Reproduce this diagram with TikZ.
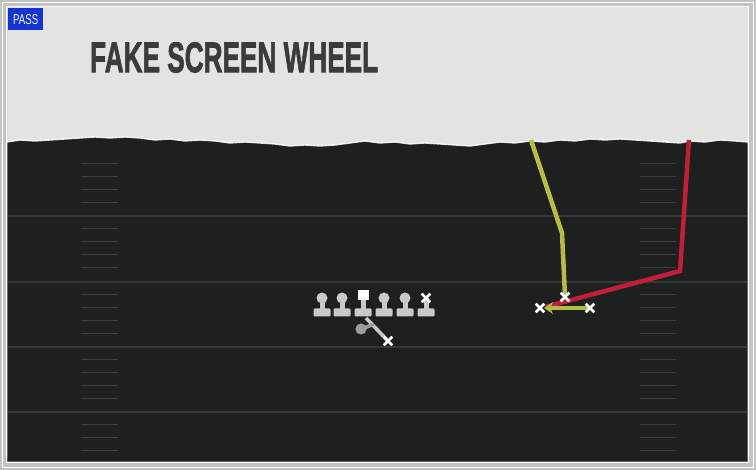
\documentclass[tikz,border=0pt]{standalone}
\usepackage{fontspec}
\setmainfont{Liberation Sans}
\newfontfamily\titlefont{Liberation Sans Bold}[FakeBold=2]
\usetikzlibrary{arrows.meta}
\definecolor{framegray}{HTML}{C3C3C3}
\definecolor{paper}{HTML}{E3E4E2}
\definecolor{field}{HTML}{1D201E}
\definecolor{fieldline}{HTML}{363937}
\definecolor{hashcol}{HTML}{3C3F3D}
\definecolor{pawncol}{HTML}{C9CAC8}
\definecolor{qbcol}{HTML}{9C9D9B}
\definecolor{routey}{HTML}{B6BC48}
\definecolor{router}{HTML}{C01F3B}
\definecolor{titlecol}{HTML}{3A3B3A}
\definecolor{passblue}{HTML}{1234D2}
\tikzset{
  yardline/.style={draw=fieldline, line width=1.2pt},
  hashline/.style={draw=hashcol, line width=1pt},
  routeline/.style={line width=4.5pt, line join=miter},
  xmark/.style={draw=white, line width=2.5pt},
  pawn/.pic={
    \fill[pawncol] (-2.5,0) rectangle (2.5,11);
    \fill[pawncol, rounded corners=1.2pt] (-8.5,10.5) rectangle (8.5,18.5);
  },
  pawnhead/.pic={\fill[pawncol] (0,0) circle (5.5);},
  xpic/.pic={\draw[xmark] (-4.3,-4.3) -- (4.3,4.3) (-4.3,4.3) -- (4.3,-4.3);}
}
\begin{document}
\begin{tikzpicture}[x=1pt,y=-1pt]
\useasboundingbox (0,0) rectangle (756,470);
% frame
\fill[framegray] (0,0) rectangle (756,470);
\draw[white, line width=1pt] (2.5,2.5) rectangle (753.5,467.5);
\fill[field] (7,7) rectangle (748,462);
\draw[white, line width=0.8pt] (6.5,6.5) rectangle (748.5,462.5);
\draw[black!60, line width=0.6pt] (7.3,7.3) rectangle (747.7,461.7);
% yard lines
\foreach \yy in {216,282,347,412}
  \draw[yardline] (8,\yy) -- (747,\yy);
% hash marks
\foreach \yy in {164,177,190,203,229,242,255,268,295,308,321,334,360,373,386,399,425,438,451}{
  \draw[hashline] (81,\yy) -- (118,\yy);
  \draw[hashline] (640,\yy) -- (676,\yy);
}
% paper with torn edge
\fill[paper] (7,7) -- (748,7) -- (748,142)
  -- (735,141) -- (720,140) -- (705,142) -- (690,141) -- (680,143) -- (665,142)
  -- (650,141) -- (635,140) -- (620,139) -- (605,140) -- (590,139) -- (575,141)
  -- (560,140) -- (545,142) -- (530,141) -- (515,143) -- (500,142) -- (485,144)
  -- (470,146) -- (455,145) -- (440,144) -- (425,143) -- (410,144) -- (395,142)
  -- (380,143) -- (365,141) -- (350,143) -- (335,145) -- (320,146) -- (305,145)
  -- (290,146) -- (275,144) -- (260,143) -- (245,142) -- (230,143) -- (215,141)
  -- (200,140) -- (185,141) -- (170,139) -- (155,140) -- (140,138) -- (125,137)
  -- (110,138) -- (95,137) -- (80,138) -- (65,139) -- (50,140) -- (35,141)
  -- (20,140) -- (7,142) -- cycle;
\draw[white, line width=1.4pt, opacity=0.85]
  (748,142)
  -- (735,141) -- (720,140) -- (705,142) -- (690,141) -- (680,143) -- (665,142)
  -- (650,141) -- (635,140) -- (620,139) -- (605,140) -- (590,139) -- (575,141)
  -- (560,140) -- (545,142) -- (530,141) -- (515,143) -- (500,142) -- (485,144)
  -- (470,146) -- (455,145) -- (440,144) -- (425,143) -- (410,144) -- (395,142)
  -- (380,143) -- (365,141) -- (350,143) -- (335,145) -- (320,146) -- (305,145)
  -- (290,146) -- (275,144) -- (260,143) -- (245,142) -- (230,143) -- (215,141)
  -- (200,140) -- (185,141) -- (170,139) -- (155,140) -- (140,138) -- (125,137)
  -- (110,138) -- (95,137) -- (80,138) -- (65,139) -- (50,140) -- (35,141)
  -- (20,140) -- (7,142);
% PASS tag
\node[fill=passblue, inner sep=0pt, minimum width=35pt, minimum height=22pt, anchor=north west]
  (pass) at (8,8) {\color{white}\resizebox{25pt}{10pt}{PASS}};
% title
\node[anchor=north west, inner sep=0pt, text=titlecol] (title) at (90,42)
  {\resizebox{288pt}{30pt}{\titlefont FAKE SCREEN WHEEL}};
% route coordinates
\coordinate (rs) at (545,307);
\coordinate (rbend) at (680,271);
\coordinate (rend) at (689,140);
\coordinate (ys) at (565,296);
\coordinate (ybend) at (562,233);
\coordinate (yend) at (531,140);
\coordinate (sx) at (590,308);
\coordinate (stip) at (544,308);
% routes
\draw[routeline, router] (rs) -- (rbend) -- (rend);
\draw[routeline, routey] (ys) -- (ybend) -- (yend);
\draw[routeline, routey, -{Stealth[length=9pt,width=12pt]}] (sx) -- (stip);
% receivers
\pic (rx1) at (565,297) {xpic};
\pic (rx2) at (540,308) {xpic};
\pic (rx3) at (590,308) {xpic};
% offensive line
\foreach \xx/\nm in {322/lt,342/lg,384/rg,405/rt}{
  \pic (\nm) at (\xx,298) {pawn};
  \pic (\nm h) at (\xx,298) {pawnhead};
}
\pic (ct) at (363,298) {pawn};
\fill[white] (357.5,290) rectangle (368.5,300.5);
\pic (te) at (426,298) {pawn};
\pic (tex) at (426,298) {xpic};
% back
\coordinate (bk1) at (366,318);
\coordinate (bkx) at (388,341);
\draw[pawncol, line width=3.6pt] (bk1) -- (bkx);
\draw[qbcol, line width=3.6pt] (362,329) -- (374,324);
\fill[qbcol] (361,329) circle (5.6);
\pic (bx) at (bkx) {xpic};
\end{tikzpicture}
\end{document}
